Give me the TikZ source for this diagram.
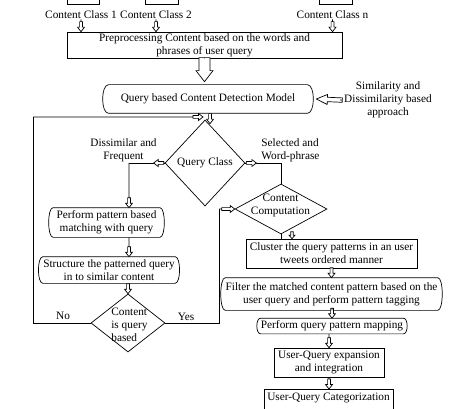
\documentclass[tikz,border=0pt]{standalone}
\usepackage{fontspec}
\setmainfont{Liberation Serif}
\usetikzlibrary{calc,shapes.geometric}
\begin{document}
\begin{tikzpicture}[x=1pt,y=-1pt,line width=0.7pt,
  every node/.style={font=\fontsize{11.3}{13}\selectfont, inner sep=0pt, align=center},
  box/.style={draw, rectangle},
  plain/.style={rectangle},
  dia/.style={draw, diamond, inner sep=0pt},
  hollow/.style n args={4}{fill=white, to path={
    -- ($(\tikztotarget)!#4!(\tikztostart)$)
    ($($(\tikztotarget)!#4!(\tikztostart)$)!#1!90:(\tikztotarget)$)
    -- ($($(\tikztotarget)!#3!(\tikztostart)$)!#1!90:(\tikztotarget)$)
    -- ($($(\tikztotarget)!#3!(\tikztostart)$)!#2!90:(\tikztotarget)$)
    -- (\tikztotarget)
    -- ($($(\tikztotarget)!#3!(\tikztostart)$)!#2!-90:(\tikztotarget)$)
    -- ($($(\tikztotarget)!#3!(\tikztostart)$)!#1!-90:(\tikztotarget)$)
    -- ($($(\tikztotarget)!#4!(\tikztostart)$)!#1!-90:(\tikztotarget)$)
    -- cycle}},
  ha/.style={hollow={1.4pt}{3.5pt}{4.5pt}{10pt}},
]
\useasboundingbox (0,0) rectangle (474,409);
\clip (0,0) rectangle (474,409);

% top class boxes (cut off by the frame)
\node[box, minimum width=32, minimum height=20] (c1) at (83,-6) {};
\node[box, minimum width=33, minimum height=20] (c2) at (161.5,-6) {};
\node[box, minimum width=33, minimum height=20] (cn) at (335.5,-6) {};
\node (lab1) at (81,15) {Content Class 1};
\node (lab2) at (156,15) {Content Class 2};
\node (labn) at (332.5,15) {Content Class n};

\node[box, minimum width=275, minimum height=26] (pre) at (204.5,45)
  {Preprocessing Content based on the words and\\phrases of user query};

\node[plain, minimum width=198, minimum height=28] (det) at (208,99)
  {Query based Content Detection Model};
\node (sim) at (388,100) {Similarity and\\Dissimilarity based\\approach};

\node[dia, minimum width=80, minimum height=86] (qc) at (205,163) {Query Class};
\node (dis) at (123.5,150) {Dissimilar and\\Frequent};
\node[anchor=west, align=left] (sel) at (261,150) {Selected and\\Word-phrase};

\node[plain, minimum width=106, minimum height=29] (pm) at (106.5,222.5)
  {Perform pattern based\\matching with query};
\node[plain, minimum width=129, minimum height=26] (st) at (109,270)
  {Structure the patterned query\\in to similar content};

\node[dia, minimum width=74, minimum height=58] (cq) at (128,323) {};
\node[anchor=west, align=left] (cqt) at (111,325) {Content\\is query\\based};
\node (no) at (63,316) {No};
\node (yes) at (186,317) {Yes};

\node[dia, minimum width=92, minimum height=50] (cc) at (281,209) {};
\node (cct) at (280.5,205.5) {Content\\Computation};

\node[box, minimum width=171, minimum height=29] (cl) at (331.5,253.5)
  {Cluster the query patterns in an user\\tweets ordered manner};
\node[plain, minimum width=210, minimum height=32] (fi) at (331.5,294)
  {Filter the matched content pattern based on the\\user query and perform pattern tagging};
\node[plain, minimum width=140, minimum height=15] (pq) at (332,326)
  {Perform query pattern mapping};
\node[box, minimum width=110, minimum height=29] (ue) at (329,362.5)
  {User-Query expansion\\and integration};
\node[box, anchor=north, minimum width=129, inner ysep=3pt, text height=8pt, text depth=14pt] (uc) at (328.5,389)
  {User-Query Categorization};

% scroll-like outlines
\foreach \n in {pm,st,fi} {
  \draw (\n.north west) -- (\n.north east)
    .. controls +(6,0) and +(6,0) .. (\n.south east) -- (\n.south west)
    .. controls +(-6,0) and +(-6,0) .. (\n.north west);
}
\draw (pq.north west) -- (pq.north east)
    .. controls +(5,0) and +(5,0) .. (pq.south east) -- (pq.south west)
    .. controls +(-5,0) and +(-5,0) .. (pq.north west);
\draw (det.north west) -- (det.north east)
    .. controls +(8,0) and +(8,0) .. (det.south east) -- (det.south west)
    .. controls +(-8,0) and +(-8,0) .. (det.north west);

% connectors
\draw[ha] (lab1.south) to (lab1.south |- pre.north);
\draw[ha] (lab2.south) to (lab2.south |- pre.north);
\draw[ha] (labn.south) to (labn.south |- pre.north);
\draw[hollow={5.5pt}{8.5pt}{11pt}{24pt}] (pre.south) to ($(pre.south |- det.north)+(0,-3)$);
\draw[hollow={2.2pt}{5pt}{11pt}{26pt}] ($(sim.west)+(-4,0)$) to ($(det.east)+(9,0)$);
\draw[ha] ($(det.south)+(2,0)$) to ($(qc.north)+(5,4)$);

\coordinate (lp) at (33,117);
\coordinate (lpe) at (203,117);
\draw (cq.west) -| (lp);
\draw[ha] (lp) to (lpe);

\coordinate (pmc) at (129,163);
\draw (qc.west) -- (pmc);
\draw[ha] (qc.west) to ($(qc.west)+(-11,0)$);
\draw[ha] (pmc) to (pmc |- pm.north);
\draw[ha] (pmc |- pm.south) to (pmc |- st.north);
\draw[ha] (st.south -| cq.north) to (cq.north);

\draw (qc.east) -| (cc.north);
\draw[ha] (qc.east) to ($(qc.east)+(11,0)$);

\coordinate (yc) at (219,209);
\draw (cq.east) -| (yc);
\draw[hollow={1.4pt}{3.5pt}{4.5pt}{13pt}] (yc) to (cc.west);

\draw (cc.south) -- (cc.south |- cl.north);
\coordinate (ccs) at ($(cc.south)+(11,-3)$);
\draw[hollow={1.2pt}{3pt}{3.5pt}{7pt}] (ccs) to (ccs |- cl.north);

\draw[ha] (cl.south) to (cl.south |- fi.north);
\draw[ha] (fi.south -| pq.north) to (pq.north);
\draw[ha] (pq.south -| ue.north) to (ue.north);
\draw[ha] (ue.south) to (ue.south |- uc.north);
\end{tikzpicture}
\end{document}
